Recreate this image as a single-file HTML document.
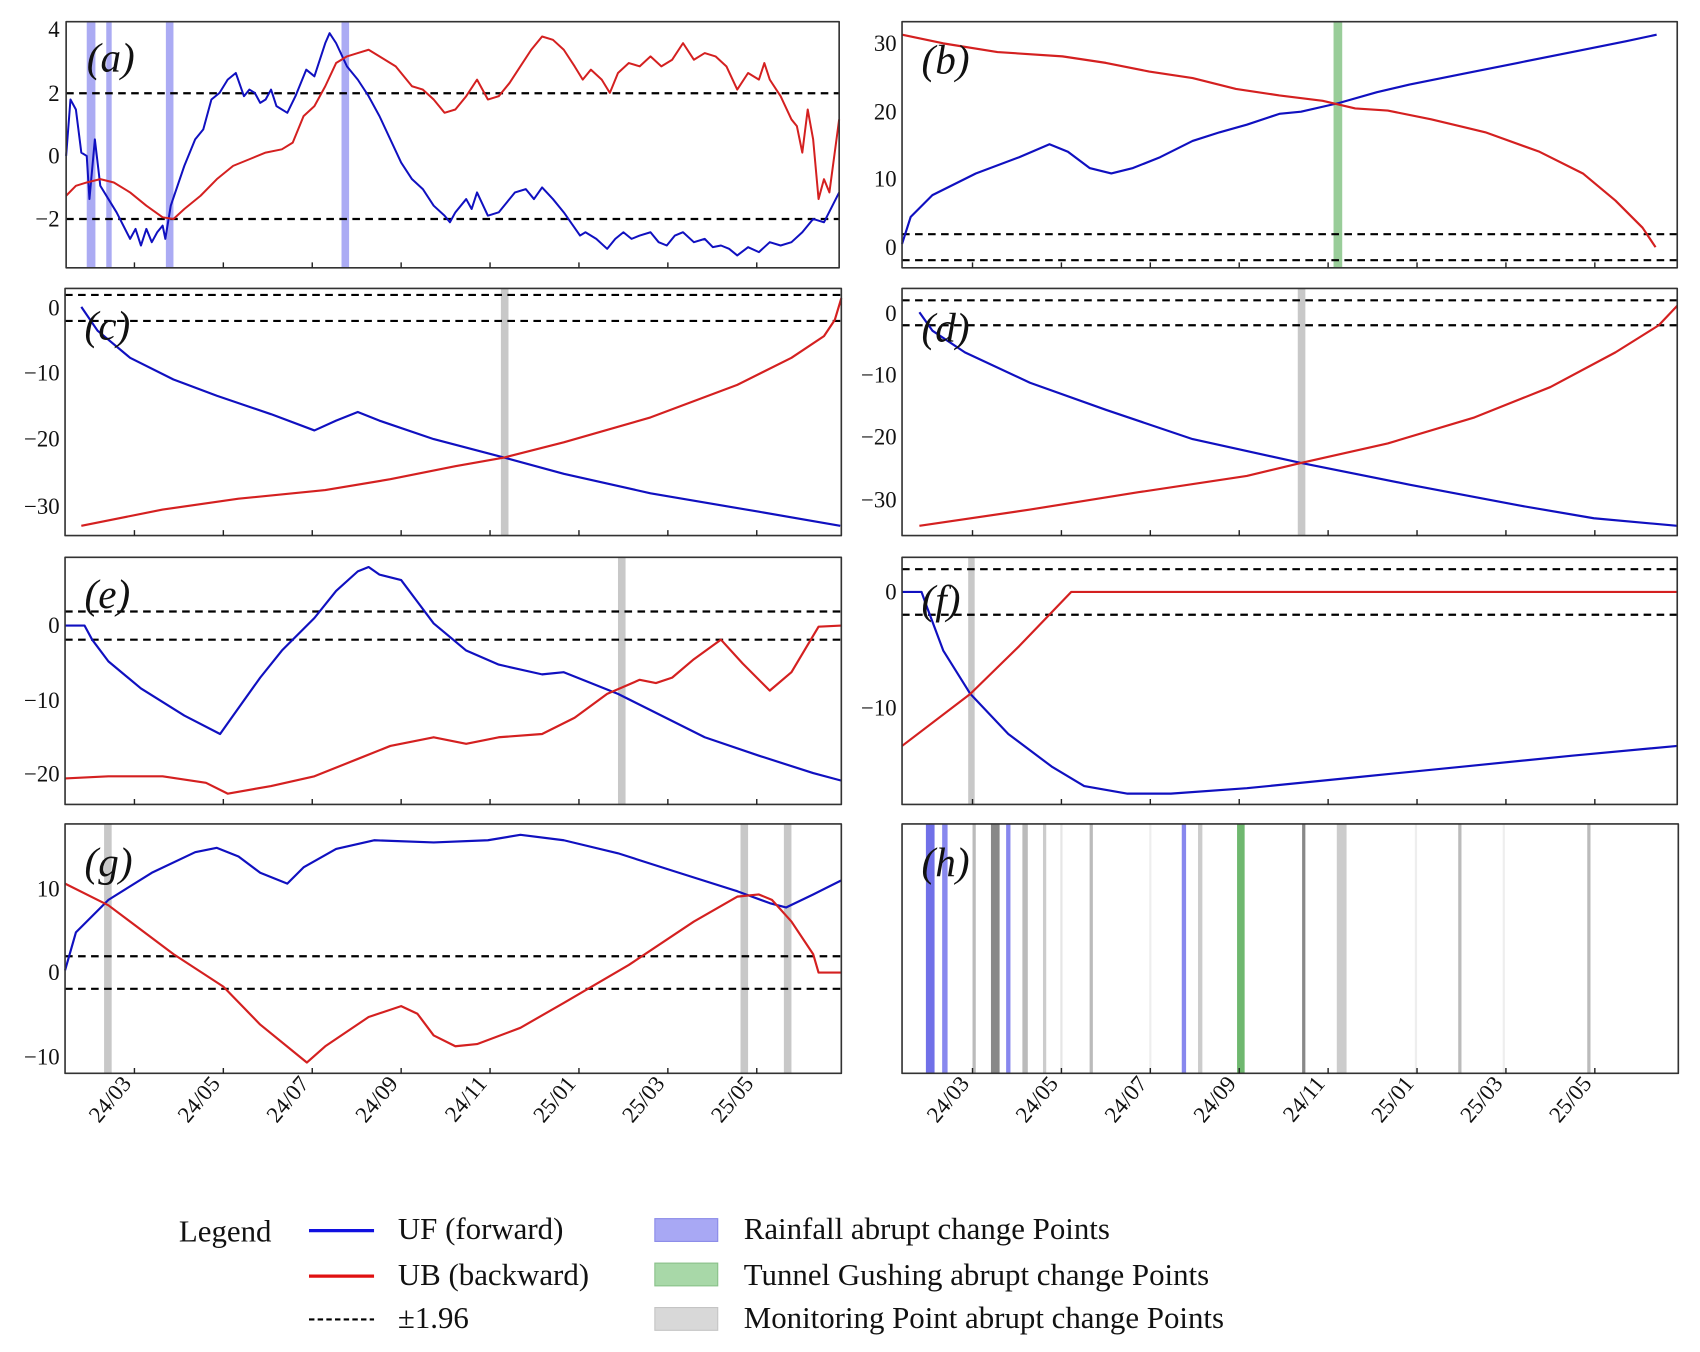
<!DOCTYPE html>
<html><head><meta charset="utf-8"><style>
html,body{margin:0;padding:0;background:#fff}
svg{display:block}
text{font-family:"Liberation Serif",serif;fill:#111}
.yl{font-size:21px;text-anchor:end}
.xl{font-size:21px}
.pl{font-size:38px;font-style:italic}
.lg{font-size:28.5px}
</style></head><body>
<svg width="1700" height="1352" viewBox="0 0 1568 1247" preserveAspectRatio="none" xmlns="http://www.w3.org/2000/svg">
<defs>
<g id="bt"><path d="M0 0v-5M82 0v-5M164 0v-5M246 0v-5M328 0v-5M410 0v-5M492 0v-5M574 0v-5" stroke="#222" stroke-width="1.3"/></g>
</defs>
<g fill="none" stroke-linejoin="round">
<!-- (a) -->
<g fill="#8f8ff0" opacity="0.75"><rect x="80" y="20" width="8" height="227"/><rect x="98" y="20" width="5" height="227"/><rect x="153" y="20" width="7" height="227"/><rect x="315" y="20" width="7" height="227"/></g>
<g stroke="#000" stroke-width="2" stroke-dasharray="7,5"><path d="M61 86H774M61 202H774"/></g>
<g transform="scale(0.5,0.306)">
<polyline vector-effect="non-scaling-stroke" stroke="#1010c0" stroke-width="2" points="122,470 130,300 140,330 150,460 160,470 165,600 175,420 185,560 200,600 215,640 240,720 250,690 260,740 270,690 280,730 290,700 300,680 305,720 315,620 340,500 360,420 375,390 390,300 405,280 420,240 435,220 450,290 460,270 470,280 480,310 490,300 500,270 510,320 530,340 545,290 565,210 580,230 600,130 608,100 620,130 640,200 660,240 680,290 700,350 740,490 760,540 780,570 800,620 820,650 830,670 840,640 860,600 870,630 880,580 900,650 920,640 935,610 950,580 970,570 985,600 1000,565 1020,600 1040,640 1070,710 1080,700 1100,720 1120,750 1135,720 1150,700 1165,720 1180,710 1200,700 1215,730 1230,740 1245,710 1260,700 1280,730 1300,720 1315,745 1330,740 1345,750 1360,770 1380,745 1400,760 1420,730 1440,740 1460,730 1480,700 1500,660 1520,670 1548,580"/>
<polyline vector-effect="non-scaling-stroke" stroke="#d42020" stroke-width="2" points="122,590 140,560 160,550 185,540 210,550 240,580 270,620 300,655 320,660 340,630 370,590 400,540 430,500 460,480 490,460 520,450 540,430 560,350 580,320 600,260 620,190 640,170 660,160 680,150 700,170 730,200 760,260 780,270 800,300 820,340 840,330 860,290 880,240 900,300 920,290 940,250 960,200 980,150 1000,110 1020,120 1040,150 1060,200 1075,240 1090,210 1110,240 1125,280 1140,220 1160,190 1180,200 1200,170 1220,200 1240,180 1260,130 1280,180 1300,160 1320,170 1340,200 1360,270 1380,220 1400,240 1410,190 1420,240 1440,290 1460,360 1470,380 1480,460 1490,330 1500,420 1510,600 1520,540 1530,580 1548,360"/>
</g>
<rect x="61" y="20" width="713" height="227" stroke="#333" stroke-width="1.5"/>
<!-- (b) -->
<rect x="1230" y="20" width="8" height="227" fill="#7fc07f" opacity="0.8"/>
<g stroke="#000" stroke-width="2" stroke-dasharray="7,5"><path d="M832 216H1547M832 240H1547"/></g>
<polyline stroke="#1010c0" stroke-width="2" points="832,225 840,200 860,180 900,160 940,145 968,133 985,140 1005,155 1025,160 1045,155 1070,145 1100,130 1125,122 1150,115 1180,105 1200,103 1235,95 1270,85 1300,78 1350,68 1400,58 1450,48 1500,38 1528,32"/>
<polyline stroke="#d42020" stroke-width="2" points="832,32 870,40 920,48 980,52 1020,58 1060,66 1100,72 1140,82 1180,88 1220,93 1250,100 1280,102 1320,110 1370,122 1420,140 1460,160 1490,185 1515,210 1527,228"/>
<rect x="832" y="20" width="715" height="227" stroke="#333" stroke-width="1.5"/>
<!-- (c) -->
<rect x="462" y="266" width="7" height="228" fill="#c8c8c8"/>
<g stroke="#000" stroke-width="2" stroke-dasharray="7,5"><path d="M60 272H776M60 296H776"/></g>
<polyline stroke="#1010c0" stroke-width="2" points="75,283 90,305 120,330 160,350 200,365 250,382 290,397 310,388 330,380 350,388 400,405 465,422 520,437 600,455 700,472 775,485"/>
<polyline stroke="#d42020" stroke-width="2" points="75,485 150,470 220,460 300,452 360,442 420,430 465,422 520,408 600,385 680,355 730,330 760,310 770,295 776,275"/>
<rect x="60" y="266" width="716" height="228" stroke="#333" stroke-width="1.5"/>
<!-- (d) -->
<rect x="1197" y="266" width="7" height="228" fill="#c8c8c8"/>
<g stroke="#000" stroke-width="2" stroke-dasharray="7,5"><path d="M832 277H1547M832 300H1547"/></g>
<polyline stroke="#1010c0" stroke-width="2" points="848,288 860,305 890,325 950,353 1020,378 1100,405 1200,427 1300,447 1400,466 1470,478 1547,485"/>
<polyline stroke="#d42020" stroke-width="2" points="848,485 950,470 1050,454 1150,439 1200,427 1280,409 1360,385 1430,357 1490,325 1530,300 1547,282"/>
<rect x="832" y="266" width="715" height="228" stroke="#333" stroke-width="1.5"/>
<!-- (e) -->
<rect x="570" y="514" width="7" height="228" fill="#c8c8c8"/>
<g stroke="#000" stroke-width="2" stroke-dasharray="7,5"><path d="M60 564H776M60 590H776"/></g>
<polyline stroke="#1010c0" stroke-width="2" points="60,577 78,577 85,590 100,610 130,635 170,660 203,677 215,660 240,625 260,600 290,570 310,545 330,527 340,523 350,530 370,535 385,555 400,575 430,600 460,613 500,622 520,620 540,628 570,640 600,655 650,680 700,697 750,713 776,720"/>
<polyline stroke="#d42020" stroke-width="2" points="60,718 100,716 150,716 190,722 210,732 250,725 290,716 330,700 360,688 400,680 430,686 460,680 500,677 530,662 560,640 590,627 605,630 620,625 640,608 665,590 685,612 710,637 730,620 755,578 776,577"/>
<rect x="60" y="514" width="716" height="228" stroke="#333" stroke-width="1.5"/>
<!-- (f) -->
<rect x="893" y="514" width="6" height="228" fill="#c8c8c8"/>
<g stroke="#000" stroke-width="2" stroke-dasharray="7,5"><path d="M832 525H1547M832 567H1547"/></g>
<polyline stroke="#1010c0" stroke-width="2" points="832,546 850,546 855,560 870,600 895,640 930,677 970,707 1000,725 1040,732 1080,732 1150,727 1250,717 1350,707 1450,697 1547,688"/>
<polyline stroke="#d42020" stroke-width="2" points="832,688 895,640 940,596 988,546 1547,546"/>
<rect x="832" y="514" width="715" height="228" stroke="#333" stroke-width="1.5"/>
<!-- (g) -->
<g fill="#c8c8c8"><rect x="96" y="760" width="7" height="230"/><rect x="683" y="760" width="7" height="230"/><rect x="723" y="760" width="7" height="230"/></g>
<g stroke="#000" stroke-width="2" stroke-dasharray="7,5"><path d="M60 882H776M60 912H776"/></g>
<polyline stroke="#1010c0" stroke-width="2" points="60,895 70,860 100,830 140,805 180,786 200,782 220,790 240,805 265,815 280,800 310,783 345,775 400,777 450,775 480,770 520,775 570,787 620,803 680,822 710,833 725,837 750,825 776,812"/>
<polyline stroke="#d42020" stroke-width="2" points="60,815 100,835 160,880 206,910 240,945 283,980 300,965 340,938 370,928 385,935 400,955 420,965 440,963 480,948 520,925 580,890 640,850 680,827 700,825 712,830 730,850 750,880 755,897 776,897"/>
<rect x="60" y="760" width="716" height="230" stroke="#333" stroke-width="1.5"/>
<!-- (h) -->
<g>
<rect x="978" y="760" width="2" height="230" fill="#e6e6e6"/><rect x="1060" y="760" width="2" height="230" fill="#eee"/><rect x="1305" y="760" width="2" height="230" fill="#eee"/><rect x="1386" y="760" width="2" height="230" fill="#eee"/>
<rect x="897" y="760" width="3" height="230" fill="#bbb"/><rect x="943" y="760" width="5" height="230" fill="#bbb"/><rect x="962" y="760" width="3" height="230" fill="#ccc"/><rect x="1005" y="760" width="3" height="230" fill="#bbb"/><rect x="1105" y="760" width="4" height="230" fill="#ccc"/><rect x="1233" y="760" width="9" height="230" fill="#ccc"/><rect x="1345" y="760" width="3" height="230" fill="#bbb"/><rect x="1464" y="760" width="3" height="230" fill="#bbb"/>
<rect x="914" y="760" width="8" height="230" fill="#888"/><rect x="1201" y="760" width="3" height="230" fill="#888"/>
<rect x="854" y="760" width="8" height="230" fill="#7070e8"/><rect x="869" y="760" width="5" height="230" fill="#8888ee"/><rect x="928" y="760" width="4" height="230" fill="#8888ee"/><rect x="1090" y="760" width="4" height="230" fill="#8888ee"/>
<rect x="1141" y="760" width="7" height="230" fill="#6fb86f"/>
</g>
<rect x="832" y="760" width="716" height="230" stroke="#333" stroke-width="1.5"/>
</g>
<!-- bottom ticks -->
<use href="#bt" x="124" y="247"/><use href="#bt" x="897" y="247"/>
<use href="#bt" x="124" y="494"/><use href="#bt" x="897" y="494"/>
<use href="#bt" x="124" y="742"/><use href="#bt" x="897" y="742"/>
<use href="#bt" x="124" y="990"/><use href="#bt" x="897" y="990"/>
<!-- y labels -->
<text class="yl" x="55" y="34">4</text><text class="yl" x="55" y="93">2</text><text class="yl" x="55" y="151">0</text><text class="yl" x="55" y="209">−2</text>
<text class="yl" x="827" y="47">30</text><text class="yl" x="827" y="110">20</text><text class="yl" x="827" y="172">10</text><text class="yl" x="827" y="235">0</text>
<text class="yl" x="55" y="291">0</text><text class="yl" x="55" y="351">−10</text><text class="yl" x="55" y="412">−20</text><text class="yl" x="55" y="474">−30</text>
<text class="yl" x="827" y="296">0</text><text class="yl" x="827" y="353">−10</text><text class="yl" x="827" y="410">−20</text><text class="yl" x="827" y="468">−30</text>
<text class="yl" x="55" y="584">0</text><text class="yl" x="55" y="653">−10</text><text class="yl" x="55" y="721">−20</text>
<text class="yl" x="827" y="553">0</text><text class="yl" x="827" y="660">−10</text>
<text class="yl" x="55" y="827">10</text><text class="yl" x="55" y="904">0</text><text class="yl" x="55" y="982">−10</text>
<!-- panel labels -->
<text class="pl" x="80" y="66">(a)</text><text class="pl" x="850" y="68">(b)</text>
<text class="pl" x="78" y="313">(c)</text><text class="pl" x="850" y="315">(d)</text>
<text class="pl" x="78" y="561">(e)</text><text class="pl" x="850" y="566">(f)</text>
<text class="pl" x="78" y="808">(g)</text><text class="pl" x="850" y="808">(h)</text>
<!-- x labels -->
<g class="xl">
<text transform="translate(122,1000) rotate(-50)" text-anchor="end">24/03</text>
<text transform="translate(204,1000) rotate(-50)" text-anchor="end">24/05</text>
<text transform="translate(286,1000) rotate(-50)" text-anchor="end">24/07</text>
<text transform="translate(368,1000) rotate(-50)" text-anchor="end">24/09</text>
<text transform="translate(450,1000) rotate(-50)" text-anchor="end">24/11</text>
<text transform="translate(532,1000) rotate(-50)" text-anchor="end">25/01</text>
<text transform="translate(614,1000) rotate(-50)" text-anchor="end">25/03</text>
<text transform="translate(696,1000) rotate(-50)" text-anchor="end">25/05</text>
<text transform="translate(895,1000) rotate(-50)" text-anchor="end">24/03</text>
<text transform="translate(977,1000) rotate(-50)" text-anchor="end">24/05</text>
<text transform="translate(1059,1000) rotate(-50)" text-anchor="end">24/07</text>
<text transform="translate(1141,1000) rotate(-50)" text-anchor="end">24/09</text>
<text transform="translate(1223,1000) rotate(-50)" text-anchor="end">24/11</text>
<text transform="translate(1305,1000) rotate(-50)" text-anchor="end">25/01</text>
<text transform="translate(1387,1000) rotate(-50)" text-anchor="end">25/03</text>
<text transform="translate(1469,1000) rotate(-50)" text-anchor="end">25/05</text>
</g>
<!-- legend -->
<text class="lg" x="165" y="1145">Legend</text>
<path d="M285 1135H345" stroke="#1010e0" stroke-width="3"/><text class="lg" x="367" y="1143">UF (forward)</text>
<path d="M285 1177H345" stroke="#e01010" stroke-width="3"/><text class="lg" x="367" y="1185">UB (backward)</text>
<path d="M285 1217H345" stroke="#000" stroke-width="2" stroke-dasharray="5,3"/><text class="lg" x="367" y="1225">±1.96</text>
<rect x="604" y="1124" width="58" height="21" fill="#a8a8f4" stroke="#8888e8"/><text class="lg" x="686" y="1143">Rainfall abrupt change Points</text>
<rect x="604" y="1165" width="58" height="21" fill="#a8d8a8" stroke="#88c088"/><text class="lg" x="686" y="1185">Tunnel Gushing abrupt change Points</text>
<rect x="604" y="1206" width="58" height="21" fill="#d8d8d8" stroke="#c4c4c4"/><text class="lg" x="686" y="1225">Monitoring Point abrupt change Points</text>
</svg>
</body></html>
